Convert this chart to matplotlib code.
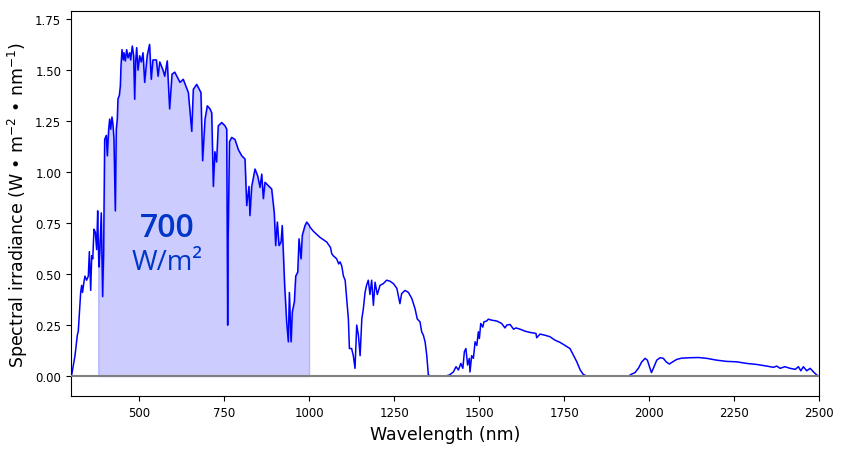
import numpy as np
import matplotlib
matplotlib.use("Agg")
import matplotlib.pyplot as plt

# spectrum (nm, W m-2 nm-1)
wavelength = [
    300, 302, 311.8, 318.6, 321.5, 326.5, 328.5, 331.4, 334, 338, 341, 346, 351, 354, 358,
    361, 364, 367.6, 371.6, 375.5, 378.5, 380, 382, 385, 389, 393, 396, 399, 403.9, 406.8,
    410.8, 413.7, 416.6, 420.5, 423.5, 426.4, 430.3, 433.2, 436.1, 438.2, 442, 445, 447,
    450, 453.8, 455.8, 459.7, 463.6, 467.6, 472.5, 475.4, 480.2, 484.2, 487.2, 490, 493,
    497, 502, 506.7, 511.7, 516.6, 524, 531, 536, 541, 551, 556, 561, 570.5, 575.5, 583,
    590, 597, 605, 620.5, 630, 645, 655, 659.6, 669.6, 682, 687, 694, 700.8, 708.7, 713.7,
    718.5, 723, 728, 733, 743, 752.8, 757.8, 760.6, 762, 766, 772.5, 782, 792, 802, 811.6,
    816.6, 823.4, 826, 831.3, 841, 849, 855.7, 860.7, 865.5, 870.4, 880, 890, 897.6, 901.7,
    906.6, 911.6, 917.5, 921, 928, 934, 939, 942, 947, 950.7, 956.6, 960.7, 966.6, 970.4,
    976.3, 980, 988, 993, 1000, 1002.7, 1012.5, 1032, 1052, 1063, 1066.5, 1071, 1081, 1087,
    1091, 1096, 1101, 1106, 1110.6, 1115.5, 1118.5, 1125, 1130, 1135, 1140, 1145, 1150, 1155,
    1159.5, 1164.5, 1169, 1174, 1179, 1184, 1189, 1194, 1200.6, 1208.5, 1218, 1228, 1238,
    1248, 1258, 1267, 1272, 1282, 1292, 1302, 1311.5, 1318, 1326, 1331, 1336, 1341, 1346,
    1350.6, 1360, 1400, 1412, 1424, 1432, 1439, 1446, 1452, 1456.5, 1461, 1466, 1471, 1473,
    1478, 1483, 1488, 1493, 1497.6, 1500.6, 1504.6, 1510.5, 1514, 1522, 1527, 1537, 1552,
    1566, 1576, 1581, 1591, 1601, 1608.5, 1620, 1635, 1650, 1667, 1669, 1679, 1694, 1708,
    1723, 1738, 1752.5, 1767, 1777, 1787, 1797, 1806, 1816, 1850, 1939, 1948.5, 1958, 1968,
    1978, 1988, 1994.5, 2000.6, 2006.5, 2012, 2022, 2032, 2041.5, 2049.5, 2059, 2069, 2081,
    2095.5, 2120, 2144.6, 2169, 2198.5, 2228, 2257, 2287, 2316, 2345.5, 2365, 2375, 2384.6,
    2399, 2414, 2429, 2438.5, 2445.5, 2453, 2463, 2473, 2482.5, 2492.5, 2500,
]
irradiance = [
    0.0, 0.005, 0.10, 0.20, 0.22, 0.36, 0.41, 0.445, 0.41, 0.46, 0.49, 0.47, 0.49, 0.61, 0.42,
    0.59, 0.575, 0.72, 0.705, 0.62, 0.81, 0.68, 0.535, 0.62, 0.80, 0.39, 0.61, 1.16, 1.18, 1.08,
    1.21, 1.26, 1.21, 1.27, 1.23, 1.16, 0.81, 1.21, 1.26, 1.36, 1.375, 1.42, 1.52,
    1.60, 1.55, 1.585, 1.545, 1.60, 1.56, 1.585, 1.55, 1.618, 1.57, 1.357, 1.537, 1.61,
    1.50, 1.57, 1.54, 1.585, 1.44, 1.57, 1.626, 1.455, 1.55, 1.55, 1.47, 1.54, 1.50, 1.47, 1.545,
    1.31, 1.48, 1.49, 1.44, 1.455, 1.39, 1.20, 1.406, 1.43, 1.39, 1.056, 1.26, 1.325, 1.31, 1.29,
    0.93, 1.10, 1.05, 1.227, 1.243, 1.227, 1.21, 0.25, 0.67, 1.15, 1.17, 1.16, 1.11, 1.08, 1.064,
    0.836, 0.93, 0.787, 0.93, 1.015, 0.98, 0.925, 0.99, 0.87, 0.95, 0.934, 0.917, 0.80, 0.64,
    0.755, 0.64, 0.657, 0.738, 0.45, 0.266, 0.168, 0.41, 0.168, 0.315, 0.364, 0.49, 0.51, 0.673,
    0.575, 0.69, 0.738, 0.755, 0.74, 0.73, 0.71, 0.68, 0.657, 0.63, 0.60, 0.59, 0.575, 0.55,
    0.56, 0.54, 0.49, 0.47, 0.38, 0.28, 0.135, 0.135, 0.10, 0.038, 0.25, 0.20, 0.10, 0.28,
    0.33, 0.41, 0.445, 0.47, 0.40, 0.47, 0.347, 0.46, 0.40, 0.445, 0.453, 0.47, 0.465,
    0.453, 0.43, 0.355, 0.404, 0.42, 0.41, 0.38, 0.33, 0.28, 0.266, 0.217, 0.20, 0.168, 0.10,
    0.005, 0.0, 0.0, 0.005, 0.02, 0.046, 0.03, 0.062, 0.038, 0.12, 0.135, 0.054, 0.087, 0.02,
    0.10, 0.087, 0.168, 0.15, 0.217, 0.184, 0.258, 0.24, 0.266, 0.27, 0.279, 0.274, 0.27,
    0.258, 0.236, 0.25, 0.253, 0.23, 0.236, 0.23, 0.22, 0.214, 0.209, 0.188, 0.206, 0.20, 0.193,
    0.176, 0.165, 0.15, 0.135, 0.103, 0.07, 0.03, 0.008, 0.0, 0.0, 0.0, 0.01, 0.017, 0.038,
    0.07, 0.087, 0.078, 0.046, 0.017, 0.038, 0.078, 0.09, 0.087, 0.07, 0.059, 0.07, 0.082,
    0.088, 0.09, 0.091, 0.087, 0.078, 0.072, 0.07, 0.062, 0.057, 0.049, 0.043, 0.049, 0.038,
    0.046, 0.038, 0.033, 0.046, 0.026, 0.046, 0.026, 0.038, 0.021, 0.005, 0.0,
]
band = (380, 1000)
power_label = "700"
unit_label = "W/m²"

wl = np.array(wavelength)
irr = np.array(irradiance)

fig = plt.figure(figsize=(8.48, 4.52), dpi=100)
ax = fig.add_axes([0.0837, 0.1206, 0.8825, 0.853])

ax.plot(wl, irr, color="blue", lw=1.1, zorder=2)
sel = (wl >= band[0]) & (wl <= band[1])
ax.fill_between(wl[sel], irr[sel], color="blue", alpha=0.2, zorder=1)
ax.axhline(0, color="gray", lw=1.5, zorder=3)

ax.text(582, 0.73, power_label, ha="center", va="center", fontsize=23,
        fontweight="semibold", color="#0036c8", family="Open Sans")
ax.text(582, 0.56, unit_label, ha="center", va="center", fontsize=20,
        fontweight="medium", color="#0036c8", family="Open Sans")

ax.set_xlim(300, 2500)
ax.set_ylim(-0.1, 1.79)
ax.set_xticks([500, 750, 1000, 1250, 1500, 1750, 2000, 2250, 2500])
ax.set_yticks([0, 0.25, 0.5, 0.75, 1.0, 1.25, 1.5, 1.75])
ax.tick_params(labelsize=8.5)
ax.set_xlabel("Wavelength (nm)", fontsize=12.5)
ax.set_ylabel(r"Spectral irradiance (W • m$^{-2}$ • nm$^{-1}$)", fontsize=12.5)

fig.savefig("out.png", dpi=100)
